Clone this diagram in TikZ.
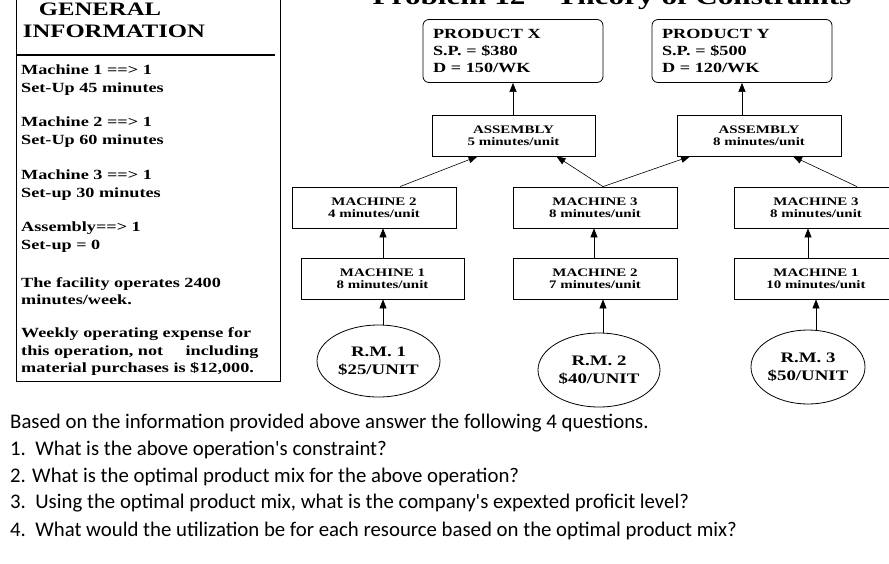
\documentclass[tikz,border=0pt]{standalone}
\usepackage{fontspec}
\setmainfont{Liberation Serif}[FakeStretch=1.3]
\newfontfamily\qfont{Carlito}
\usetikzlibrary{arrows.meta,shapes.geometric}
\begin{document}
\begin{tikzpicture}[x=1pt,y=-1pt,
  box/.style={draw,thick,inner sep=2pt,font=\bfseries\fontsize{11.5}{12}\selectfont,align=center},
  prod/.style={draw,thick,rounded corners=6pt,minimum width=180pt,minimum height=63pt,align=left,font=\bfseries\fontsize{14}{17}\selectfont,text width=160pt},
  rm/.style={draw,thick,ellipse,align=center,font=\bfseries\fontsize{14.5}{18}\selectfont,inner sep=0pt},
  arr/.style={-{Triangle[length=9pt,width=7pt]},semithick},
  info/.style={anchor=west,align=left,font=\bfseries\fontsize{14}{17.5}\selectfont,inner sep=0pt},
  q/.style={anchor=west,font=\qfont\fontsize{20.8}{22}\selectfont,inner sep=0pt}]
\useasboundingbox (0,0) rectangle (889,563);
% left panel
\draw[thick] (16,-5) -- (16,381) -- (280,381) -- (280,-5);
\draw[line width=1.6pt] (16,55) -- (275,55);
\node[font=\bfseries\fontsize{19}{20}\selectfont] (gen) at (100,9) {GENERAL};
\node[font=\bfseries\fontsize{19}{20}\selectfont] (inf) at (114,31) {INFORMATION};
\node[info] (i1) at (21,80) {Machine 1 ==> 1\\Set-Up 45 minutes};
\node[info] (i2) at (21,132) {Machine 2 ==> 1\\Set-Up 60 minutes};
\node[info] (i3) at (21,185) {Machine 3 ==> 1\\Set-up 30 minutes};
\node[info] (i4) at (21,237) {Assembly==> 1\\Set-up = 0};
\node[info] (i5) at (21,291) {The facility operates 2400\\minutes/week.};
\node[info] (i6) at (21,352) {Weekly operating expense for\\this operation, not\hspace{1.6em}including\\material purchases is \$12,000.};
% title (cut off at the top edge)
\node[font=\bfseries\fontsize{24}{26}\selectfont] (title) at (612,-1) {Problem 12 -- Theory of Constraints};
% products
\node[prod] (px) at (513,51) {PRODUCT X\\S.P. = \$380\\D = 150/WK};
\node[prod] (py) at (742,51) {PRODUCT Y\\S.P. = \$500\\D = 120/WK};
% assembly
\node[box,minimum width=163pt,minimum height=41pt] (a1) at (513.5,135.5) {ASSEMBLY\\5 minutes/unit};
\node[box,minimum width=164pt,minimum height=41pt] (a2) at (759,135.5) {ASSEMBLY\\8 minutes/unit};
% machines row 1
\node[box,minimum width=164pt,minimum height=41pt] (m2l) at (374,207.5) {MACHINE 2\\4 minutes/unit};
\node[box,minimum width=164pt,minimum height=41pt] (m3m) at (595,207.5) {MACHINE 3\\8 minutes/unit};
\node[box,minimum width=164pt,minimum height=41pt] (m3r) at (816,207.5) {MACHINE 3\\8 minutes/unit};
% machines row 2
\node[box,minimum width=163pt,minimum height=41pt] (m1l) at (382.5,278.5) {MACHINE 1\\8 minutes/unit};
\node[box,minimum width=164pt,minimum height=41pt] (m2m) at (595,278.5) {MACHINE 2\\7 minutes/unit};
\node[box,minimum width=164pt,minimum height=41pt] (m1r) at (816,278.5) {MACHINE 1\\10 minutes/unit};
% raw materials
\node[rm,minimum width=123pt,minimum height=72pt] (r1) at (378.5,361) {R.M. 1\\\$25/UNIT};
\node[rm,minimum width=122pt,minimum height=74pt] (r2) at (599,370) {R.M. 2\\\$40/UNIT};
\node[rm,minimum width=114pt,minimum height=74pt] (r3) at (808,367) {R.M. 3\\\$50/UNIT};
% arrows
\draw[arr] (a1.north -| px.south) -- (px.south);
\draw[arr] (a2.north -| py.south) -- (py.south);
\draw[arr] ([xshift=26pt]m2l.north) -- ([xshift=-36pt]a1.south);
\draw[arr] ([xshift=8pt]m3m.north) -- ([xshift=43pt]a1.south);
\draw[arr] ([xshift=8pt]m3m.north) -- ([xshift=-69pt]a2.south);
\draw[arr] ([xshift=41pt]m3r.north) -- ([xshift=34pt]a2.south);
\draw[arr] ([xshift=0.5pt]m1l.north) -- ([xshift=9pt]m2l.south);
\draw[arr] ([xshift=-1pt]m2m.north) -- ([xshift=-1pt]m3m.south);
\draw[arr] ([xshift=-8pt]m1r.north) -- ([xshift=-8pt]m3r.south);
\draw[arr] ([xshift=4.5pt]r1.north) -- ([xshift=0.5pt]m1l.south);
\draw[arr] ([xshift=4pt]r2.north) -- ([xshift=8pt]m2m.south);
\draw[arr] ([xshift=8pt]r3.north) -- ([xshift=0pt]m1r.south);
% questions
\node[q] (q0) at (10,423) {Based on the information provided above answer the following 4 questions.};
\node[q] (q1) at (10,450) {1.\ \ What is the above operation's constraint?};
\node[q] (q2) at (10,477) {2. What is the optimal product mix for the above operation?};
\node[q] (q3) at (10,503) {3.\ \ Using the optimal product mix, what is the company's expexted proficit level?};
\node[q] (q4) at (10,531) {4.\ \ What would the utilization be for each resource based on the optimal product mix?};
\end{tikzpicture}
\end{document}
